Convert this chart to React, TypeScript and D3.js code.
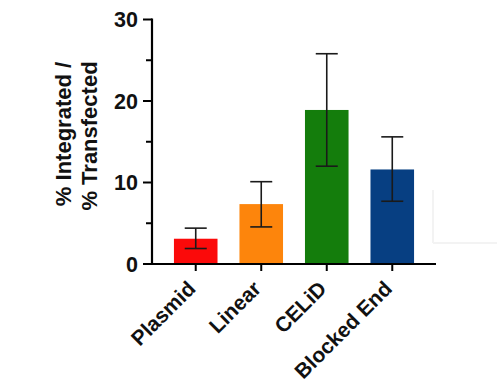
import React from "react";
import * as d3 from "d3";

const categories = ["Plasmid", "Linear", "CELiD", "Blocked End"];
const means = [3.1, 7.35, 18.9, 11.6];
const errUpper = [4.4, 10.1, 25.8, 15.6];
const errLower = [1.9, 4.55, 12.0, 7.7];
const colors = ["#fb0a0a", "#fd850c", "#147d0c", "#073f82"];
const yTicks = [0, 10, 20, 30];
const yMinorTicks = [5, 15, 25];

const W = 497;
const H = 388;
const x0 = 152;
const x1 = 436;
const yBottom = 264;
const yTop = 19.5;

export default function App() {
  const x = d3.scaleBand<string>().domain(categories).range([x0, x1]).paddingInner(0.335).paddingOuter(0.335);
  const y = d3.scaleLinear().domain([0, 30]).range([yBottom, yTop]);
  const bw = x.bandwidth();
  const cap = 22;
  const font = "'Liberation Sans', Arial, Helvetica, sans-serif";

  return (
    <svg width={W} height={H} style={{ position: "absolute", left: 0, top: 0, background: "#fff" }} fontFamily={font}>
      <rect x={0} y={0} width={W} height={H} fill="#fff" />
      {/* faint artifact on right */}
      <line x1={433} y1={190} x2={433} y2={243} stroke="#f3f3f3" strokeWidth={2} />
      <line x1={433} y1={243} x2={497} y2={243} stroke="#f3f3f3" strokeWidth={2} />

      {/* bars */}
      {categories.map((c, i) => (
        <rect key={c} x={x(c)} y={y(means[i])} width={bw} height={y(0) - y(means[i])} fill={colors[i]} />
      ))}

      {/* error bars */}
      {categories.map((c, i) => {
        const cx = (x(c) as number) + bw / 2;
        return (
          <g key={c} stroke="#1a1a1a" strokeWidth={1.6}>
            <line x1={cx} x2={cx} y1={y(errUpper[i])} y2={y(errLower[i])} />
            <line x1={cx - cap / 2} x2={cx + cap / 2} y1={y(errUpper[i])} y2={y(errUpper[i])} />
            <line x1={cx - cap / 2} x2={cx + cap / 2} y1={y(errLower[i])} y2={y(errLower[i])} />
          </g>
        );
      })}

      {/* y axis */}
      <line x1={x0} x2={x0} y1={yTop - 1} y2={yBottom + 1} stroke="#000" strokeWidth={2.2} />
      {yTicks.map((t) => (
        <g key={t}>
          <line x1={x0 - 9} x2={x0} y1={y(t)} y2={y(t)} stroke="#000" strokeWidth={2} />
          <text x={138} y={y(t) + 7.8} textAnchor="end" fontSize={21.5} fontWeight="bold" fill="#111">
            {t}
          </text>
        </g>
      ))}
      {yMinorTicks.map((t) => (
        <line key={t} x1={x0 - 6} x2={x0} y1={y(t)} y2={y(t)} stroke="#000" strokeWidth={2} />
      ))}

      {/* x axis */}
      <line x1={x0 - 1} x2={x1} y1={yBottom} y2={yBottom} stroke="#000" strokeWidth={2.2} />
      {categories.map((c) => {
        const cx = (x(c) as number) + bw / 2;
        return (
          <g key={c}>
            <line x1={cx} x2={cx} y1={yBottom} y2={yBottom + 7} stroke="#000" strokeWidth={2} />
            <text
              transform={`translate(${cx + 1},${yBottom + 26}) rotate(-45)`}
              textAnchor="end"
              fontSize={21}
              fontWeight="bold"
              fill="#111"
            >
              {c}
            </text>
          </g>
        );
      })}

      {/* y title */}
      <text transform={`translate(71,134) rotate(-90)`} textAnchor="middle" fontSize={22} fontWeight="bold" fill="#111">
        % Integrated /
      </text>
      <text transform={`translate(96.5,136) rotate(-90)`} textAnchor="middle" fontSize={22} fontWeight="bold" fill="#111">
        % Transfected
      </text>
    </svg>
  );
}
